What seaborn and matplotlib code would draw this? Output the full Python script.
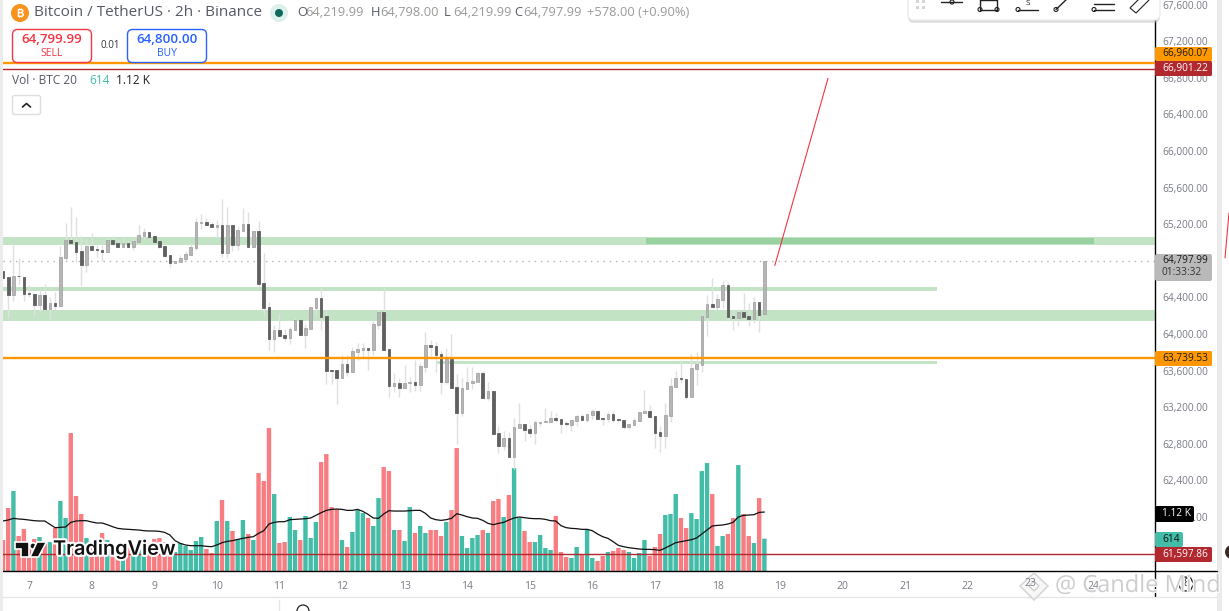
import matplotlib
matplotlib.use("Agg")
import matplotlib.pyplot as plt
from matplotlib.patches import Rectangle, FancyBboxPatch, Circle, Polygon, RegularPolygon
import matplotlib.patheffects as pe
import numpy as np
import pandas as pd
import seaborn as sns

opens = [64685,64627,64430,64638,64627,64452,64441,64321,64430,64277,64343,64310,64835,65032,65010,64911,64758,64966,64933,64922,
         64900,65032,64999,64955,64999,64955,65010,65075,65119,65075,65021,64966,64868,64780,64791,64824,64868,64944,65217,65228,
         65206,65174,65195,64889,65195,64977,65130,65206,64955,65130,64562,64299,63950,64048,63993,63960,64048,64157,63993,64059,
         64288,64398,64201,63611,63611,63523,63676,63589,63807,63829,63851,63829,64103,64245,63840,63436,63469,63414,63469,63480,
         63447,63644,63884,63873,63786,63480,63731,63425,63141,63403,63469,63480,63578,63305,63381,62922,62780,62868,62660,62977,
         63021,62966,62922,63031,63042,63042,63086,63075,63031,63010,63053,63108,63064,63119,63163,63086,63075,63130,63075,63064,
         62988,63010,63053,63141,63163,63108,62933,62889,63108,63425,63523,63512,63316,63622,63665,64190,64332,64299,64376,64540,
         64201,64179,64245,64201,64168,64354,64219.99]
closes = [64616,64430,64638,64631,64441,64441,64321,64430,64277,64343,64310,64846,65032,64995,64900,64758,64966,64922,64922,64900,
          65032,64988,64955,64999,64955,65021,65086,65119,65064,65010,64955,64857,64780,64802,64835,64879,64955,65228,65228,65195,
          65174,65195,64889,65195,64977,65141,65206,64955,65130,64551,64288,63950,64048,63982,63960,64059,64157,63993,64070,64299,
          64398,64190,63600,63600,63523,63676,63589,63818,63840,63851,63829,64114,64245,63829,63436,63469,63414,63469,63480,63447,
          63654,63884,63862,63775,63480,63731,63414,63141,63414,63480,63491,63578,63305,63381,62911,62780,62868,62660,62988,63021,
          62955,62922,63042,63042,63053,63086,63064,63021,63021,63064,63108,63064,63130,63163,63075,63075,63130,63064,63064,62988,
          63021,63064,63152,63163,63097,62922,62889,63119,63436,63523,63512,63316,63633,63676,64201,64332,64299,64387,64540,64190,
          64179,64245,64190,64168,64354,64212,64797.99]
highs = [64685,64627,64988,64835,64627,64540,64441,64485,64551,64409,64463,64966,65217,65392,65283,65075,65042,65108,64977,64977,
         65075,65075,65021,65053,65021,65053,65195,65163,65119,65086,65032,64966,64868,64802,64868,64911,64999,65272,65316,65272,
         65228,65250,65480,65392,65195,65185,65381,65338,65130,65239,64889,64354,64103,64223,64059,64081,64179,64157,64114,64299,
         64409,64518,64266,63611,63611,63775,63775,63862,63906,63906,63851,64146,64266,64507,63840,63578,63523,63665,63534,63720,
         63687,64026,63939,63917,63818,63851,64004,63567,63523,63644,63644,63589,63600,63480,63381,62999,62944,62933,63086,63250,
         63021,63010,63064,63042,63195,63163,63141,63075,63053,63064,63119,63130,63130,63185,63174,63086,63152,63163,63075,63064,
         63021,63086,63152,63392,63228,63108,62999,63250,63523,63600,63720,63512,63786,63807,64234,64430,64616,64441,64583,64573,
         64277,64277,64452,64343,64409,64354,64798]
lows = [64616,64179,64365,64551,64365,64409,64201,64245,64266,64168,64266,64310,64802,64995,64791,64529,64682,64922,64846,64802,
        64900,64977,64955,64955,64955,64922,65010,65042,65064,65010,64944,64846,64736,64780,64791,64802,64868,64922,65152,65195,
        65174,65053,64846,64835,64911,64922,65130,64955,64955,64518,64201,63829,63807,63982,63928,63895,64048,63993,63851,64059,
        64201,64048,63458,63458,63239,63523,63545,63589,63720,63742,63611,63775,64059,63829,63316,63370,63316,63414,63370,63381,
        63381,63589,63764,63589,63348,63458,63414,62802,63108,63403,63403,63480,63305,63283,62911,62704,62736,62660,62529,62977,
        62835,62879,62802,62999,63042,63042,63042,62922,62999,62944,62999,63064,63042,63075,63075,63010,63042,63042,63042,62966,
        62966,63010,63053,63141,63097,62758,62715,62758,63042,63425,63480,63294,63316,63447,63589,63982,64299,64266,64288,64157,
        64048,64092,64168,64092,64124,64026,64219.99]
volumes = [589,1197,1520,665,798,494,608,646,525,551,817,1330,1007,2621,1425,1083,627,513,462,722,
           589,399,304,209,494,361,399,399,304,608,627,551,462,361,532,475,399,570,646,418,
           342,950,1349,950,760,608,969,703,589,1861,1709,2716,1462,532,551,1026,779,589,1045,627,
           931,2070,2222,1215,1177,589,456,741,1158,1101,1007,855,1386,1975,1899,779,779,570,1215,722,
           855,722,779,779,665,931,1158,2336,665,437,627,684,779,722,1330,1368,1026,1444,1956,1007,
           760,551,551,684,437,399,1045,361,266,247,456,304,779,247,190,285,361,380,437,399,
           361,247,342,589,285,456,703,1064,1083,1462,1007,817,1101,988,1899,2051,1462,475,665,703,
           1007,2013,1083,665,532,1386,614]
volume_ma = [950,969,1000,988,981,969,956,950,950,886,823,829,836,924,950,956,956,931,912,912,
             880,842,810,798,791,785,779,766,760,760,753,734,684,576,525,494,481,481,481,468,
             462,494,538,563,576,601,620,639,652,715,766,893,924,937,937,975,981,988,994,1007,
             1057,1108,1152,1171,1177,1171,1152,1152,1171,1133,1076,1007,1000,1083,1146,1139,1139,1139,1146,1152,
             1152,1095,1007,975,962,975,1000,1089,1064,1032,1007,1000,962,905,880,905,924,969,1007,1026,
             1013,1000,994,994,981,956,950,861,823,810,804,791,791,766,703,652,620,557,487,462,
             443,430,418,411,411,405,392,437,487,538,557,576,595,627,703,779,855,867,874,893,
             924,1026,1057,1064,1070,1114,1120]
day_labels = ["7","8","9","10","11","12","13","14","15","16","17","18","19","20","21","22","23","24"]
day_bars = [5+12*k for k in range(len(day_labels))]
price_ticks = [62000+400*k for k in range(15)]
zones_full = [(64977,65064),(64146,64266)]
zones_part = [(64474,64518,0,179.1),(63676,63709,83.2,179.1)]
zone_dark = (64988,65046,123.3,209.2)
level_orange = [66960.07,63739.53]
level_red = [66901.22,61597.86]
last_price = 64797.99
trend_bars = [148,158.2]
trend_prices = [64749,66794]

sns.set_theme(style="white")
plt.rcParams['font.family'] = ['Open Sans','DejaVu Sans']

W,H = 1229,611
fig = plt.figure(figsize=(W/100,H/100),dpi=100,facecolor="white")
L,R,B = 3,1154.5,571
pos = [L/W,1-B/H,(R-L)/W,B/H]
axv = fig.add_axes(pos,zorder=1)
ax = fig.add_axes(pos,zorder=2,sharex=axv)
ax.patch.set_visible(False)

idx = np.arange(len(opens))
df = pd.DataFrame(dict(bar=idx,o=opens,h=highs,l=lows,c=closes,v=volumes,ma=volume_ma))
df["dir"] = np.where(df.c>=df.o,"up","down")

sns.barplot(data=df,x="bar",y="v",hue="dir",palette={"up":"#43BDA8","down":"#F87D82"},
            native_scale=True,dodge=False,width=1.0,saturation=1,legend=False,
            linewidth=0,ax=axv)
for p in axv.patches:
    p.set_x(p.get_x()+p.get_width()/2-0.42)
    p.set_width(0.84)
    p.set_snap(False)
sns.lineplot(data=df,x="bar",y="ma",color="#111111",lw=0.9,errorbar=None,ax=axv,zorder=5)
axv.set_ylim(0,571*19)
axv.set_axis_off()

# zones
for lo,hi in zones_full:
    ax.axhspan(lo,hi,color="#C2E4C4",lw=0,zorder=1)
for lo,hi,a,b in zones_part:
    ax.fill_between([a,b],lo,hi,color="#C2E4C4",lw=0,zorder=1)
ax.fill_between(zone_dark[2:],zone_dark[0],zone_dark[1],color="#99D2A0",lw=0,zorder=1.1)

# candles
colors = ["#B6B6B6" if u=="up" else "#606060" for u in df.dir]
edges = ["#A6A6A6" if u=="up" else "#606060" for u in df.dir]
ax.vlines(df.bar,df.l,df.h,color="#E0E0E0",lw=1,zorder=2)
ax.bar(df.bar,np.maximum(np.abs(df.c-df.o),8),bottom=np.minimum(df.o,df.c),width=0.5,color=colors,edgecolor=edges,lw=0.6,zorder=3)

ax.axhline(last_price,color="#B4B4B4",lw=1,ls=(0,(1,3.5)),zorder=1.5)
for p in level_orange:
    ax.axhline(p,color="#FF9800",lw=1.7,zorder=4)
for p in level_red:
    ax.axhline(p,color="#B2282F",lw=1.0,zorder=4)
ax.plot(trend_bars,trend_prices,color="#F23645",lw=0.8,zorder=4)

ax.set_xlim((L-3)/5.215,(R-3)/5.215)
ax.set_ylim(64800-(B-260.8)/0.0915,64800+260.8/0.0915)
ax.yaxis.tick_right()
ax.set_yticks(price_ticks)
ax.set_yticklabels([f"{p:,.2f}" for p in price_ticks],color="#787B86",fontsize=7.3)
ax.tick_params(axis="y",length=0,pad=5.5)
ax.set_xticks(day_bars)
ax.set_xticklabels(["" if d=="23" else d for d in day_labels],color="#787B86",fontsize=7.5)
ax.tick_params(axis="x",length=0,pad=7)
for s in ["top","left"]:
    ax.spines[s].set_visible(False)
for s in ["right","bottom"]:
    ax.spines[s].set_color("black"); ax.spines[s].set_linewidth(1)
ax.set_xlabel(""); ax.set_ylabel("")

# overlay chrome in pixel coordinates
ov = fig.add_axes([0,0,1,1],zorder=10)
ov.set_xlim(0,W); ov.set_ylim(H,0); ov.axis("off"); ov.patch.set_visible(False)
def T(x,y,s,size=8,color="#333333",ha="left",va="center",**k):
    return ov.text(x,y,s,fontsize=size,color=color,ha=ha,va=va,**k)
def rbox(x0,y0,x1,y1,fc="white",ec="none",lw=1,r=2.5,**k):
    p = FancyBboxPatch((x0+r,y0+r),x1-x0-2*r,y1-y0-2*r,boxstyle=f"round,pad={r},rounding_size={r}",fc=fc,ec=ec,lw=lw,**k)
    ov.add_patch(p); return p

ov.add_patch(Rectangle((0,0),3,H,fc="#EBEBEB",ec="none"))
ov.add_patch(Rectangle((1217,0),5,H,fc="#EBEBEB",ec="none"))
ov.plot([R,1217],[B,B],color="black",lw=1)
ov.plot([R,R],[B,597],color="black",lw=1)
ov.plot([3,1217],[597,597],color="#E6E6E6",lw=1)
ov.plot([279,279],[600,611],color="#E6E6E6",lw=1)
ov.add_patch(Circle((303,611),6,fc="none",ec="#222222",lw=0.9))

# header
ov.add_patch(Circle((20,13),9,fc="#F7931A",ec="none"))
T(20,13,"₿",8,"white",ha="center",family=["Inter","Roboto","Noto Sans","Lato","Liberation Sans","DejaVu Sans"],fontweight="bold")
T(34,13,"Bitcoin / TetherUS · 2h · Binance",11.0,"#555A66")
ov.add_patch(Circle((279,13),9,fc="#DDF0EC",ec="none"))
ov.add_patch(Circle((279,13),4,fc="#0C6A5A",ec="none"))
for x,lab,xv,val in [(297,"O",305,"64,219.99"),(371,"H",380,"64,798.00"),(444,"L",453,"64,219.99"),(514,"C",523,"64,797.99")]:
    T(x,13,lab,9.3,"#555A66"); T(xv,13,val,9.3,"#9A9A9A")
T(587,13,"+578.00 (+0.90%)",9.3,"#9A9A9A")
rbox(12.5,29.5,91.5,62.5,ec="#F23645",lw=1,r=5)
rbox(127.5,29.5,206.5,62.5,ec="#2962FF",lw=1,r=5)
T(52,39.5,"64,799.99",9.6,"#F23645",ha="center",fontweight="semibold")
T(52,53,"SELL",7.5,"#F23645",ha="center")
T(167,39.5,"64,800.00",9.6,"#2962FF",ha="center",fontweight="semibold")
T(167,53,"BUY",7.5,"#2962FF",ha="center")
T(110,46,"0.01",7,"#333333",ha="center")
T(12,80,"Vol · BTC 20",8.6,"#555A66")
T(89,80,"614",8.6,"#43BDA8")
T(116,80,"1.12 K",8.6,"#222222")
rbox(12.5,95.5,40.5,114.5,ec="#DDDDDD",lw=1,r=2)
ov.plot([22.5,26.5,30.5],[107,103.5,107],color="#222222",lw=1.2)

# toolbar
rbox(908,-12,1160,20,ec="#ECECEC",lw=1,r=6,path_effects=[pe.withSimplePatchShadow(offset=(0,-2),shadow_rgbFace="#BBBBBB",alpha=0.5)])
for x in (917,923):
    for y in (1,7):
        ov.add_patch(Rectangle((x-1.5,y-1.5),3,3,fc="#D5D5D5",ec="none"))
ic="#222222"
ov.plot([941,962],[2,2],color=ic,lw=1); ov.add_patch(Circle((952,2),2,fc="white",ec=ic,lw=.8))
ov.plot([980,980,997,997,980],[0,9.5,9.5,0,0],color=ic,lw=1)
ov.add_patch(Circle((980,9.5),2,fc="white",ec=ic,lw=.8)); ov.add_patch(Circle((997,9.5),2,fc="white",ec=ic,lw=.8))
ov.plot([1018,1038],[9.5,9.5],color=ic,lw=1); ov.add_patch(Circle((1018,9.5),2,fc="white",ec=ic,lw=.8))
T(1028,3.5,"S",6,ic,ha="center")
ov.plot([1056,1069],[9.5,-3],color=ic,lw=1); ov.add_patch(Circle((1056,9.5),2,fc="white",ec=ic,lw=.8))
ov.plot([1094,1114],[9.5,9.5],color=ic,lw=1); ov.plot([1094,1114],[4,4],color=ic,lw=1); ov.add_patch(Circle((1094,9.5),2,fc="white",ec=ic,lw=.8))
ov.add_patch(Polygon([[1130,8],[1136,13],[1149,0],[1143,-5]],closed=True,fc="white",ec=ic,lw=.8,clip_on=True))

# price labels
def tag(y0,y1,label,fc,tc,x1=1212):
    rbox(1155,y0,x1,y1,fc=fc,r=1.5)
    T(1162,(y0+y1)/2-0.3,label,7.3,tc,fontweight="medium")
tag(47,61,"66,960.07","#FF9800","#1A1A1A")
tag(61,76,"66,901.22","#B2282F","white")
tag(351,366,"63,739.53","#FF9800","#1A1A1A")
tag(547,562,"61,597.86","#B2282F","white")
rbox(1155,254,1212,281,fc="#B9B9B9",r=2)
T(1162,260.5,"64,797.99",7.3,"#1A1A1A",fontweight="medium")
T(1162,272.5,"01:33:32",7.3,"#333333")
rbox(1155,506,1194,522,fc="#000000",r=2)
T(1162,514,"1.12 K",7.3,"white",fontweight="medium")
rbox(1155,532,1183,547,fc="#43BDA8",r=2)
T(1162,539.5,"614",7.3,"#111111")
ov.plot([1225,1229],[258,213],color="#F23645",lw=0.8)
ov.add_patch(Circle((1232,552),7,fc="#3B2A20",ec="none",clip_on=True))

# TradingView logo
halo=[pe.withStroke(linewidth=3,foreground="white")]
kw=dict(fc="#111111",ec="white",lw=1.2,zorder=5)
ov.add_patch(Polygon([[15,542],[29,542],[29,557],[21,557],[21,549],[15,549]],closed=True,**kw))
ov.add_patch(Circle((33,546),3.2,**kw))
ov.add_patch(Polygon([[37,542],[46.5,542],[38.5,557],[30,557]],closed=True,**kw))
T(53,549.5,"TradingView",14.3,"#111111",fontweight="semibold",path_effects=halo,zorder=6,family=["Inter","Open Sans"])

# watermark
mark=[pe.withStroke(linewidth=1.5,foreground="#FFFFFF")]
T(1030,584,"23",7.5,"#787B86",ha="center",zorder=6.5)
T(1055,586,"@ Candle Mind",17,"#CDCDCD",family=["Open Sans"],path_effects=mark,zorder=7)
ov.add_patch(Polygon([[1034,573],[1048,586],[1034,600],[1020,586]],closed=True,fc="#F5F5F5",ec="#CFCFCF",lw=1.2,alpha=.8,zorder=6))
ov.add_patch(Polygon([[1034,581],[1039,586],[1034,591],[1029,586]],closed=True,fc="white",ec="#CFCFCF",lw=1,zorder=6))
ov.add_patch(RegularPolygon((1186,584),6,radius=8,orientation=np.pi/2,fc="white",ec="#222222",lw=1,zorder=6))
T(1186,584,"8",7,"#222222",ha="center",zorder=6.5)

fig.savefig("out.png",dpi=100)
